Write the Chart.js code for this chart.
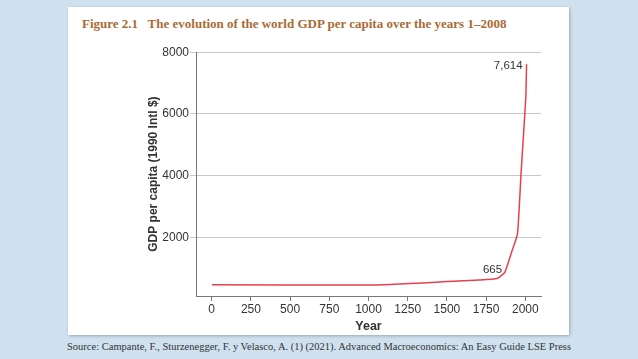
<!DOCTYPE html>
<html>
<head>
<meta charset="utf-8">
<script src="https://cdn.jsdelivr.net/npm/chart.js@4.4.1/dist/chart.umd.min.js"></script>
<style>
  html, body { margin: 0; padding: 0; }
  body { width: 638px; height: 359px; background: #cfe1ef; position: relative; overflow: hidden; }
  .card { position: absolute; left: 68px; top: 7px; width: 501px; height: 328px; background: #fff; box-shadow: 1px 1px 3px rgba(0,0,0,0.25); }
  .title { position: absolute; left: 14px; top: 9px; font: bold 13px "Liberation Serif", serif; color: #a96b35; white-space: pre; }
  .plot { position: absolute; left: 72px; top: 37px; width: 410px; height: 290px; }
  .source { position: absolute; left: 0; width: 638px; top: 341px; text-align: center; font: 10.5px "Liberation Serif", serif; color: #333; white-space: nowrap; }
</style>
</head>
<body>
<div class="card">
  <div class="title">Figure 2.1   The evolution of the world GDP per capita over the years 1–2008</div>
  <div class="plot"><canvas id="gdpChart"></canvas></div>
</div>
<div class="source">Source: Campante, F., Sturzenegger, F. y Velasco, A. (1) (2021). Advanced Macroeconomics: An Easy Guide LSE Press</div>
<script>
const years = [1, 1000, 1500, 1600, 1700, 1820, 1870, 1913, 1950, 1973, 2003, 2008];
const gdpPerCapita = [467, 453, 566, 596, 615, 665, 873, 1526, 2113, 4091, 6516, 7614];
const xTicks = [0, 250, 500, 750, 1000, 1250, 1500, 1750, 2000];
const yTicks = [2000, 4000, 6000, 8000];
// which points get a number written next to them
const labelled = { 1820: '665', 2008: '7,614' };

const pointLabels = {
    id: 'pointLabels',
    afterDatasetsDraw(chart) {
        const ctx = chart.ctx;
        const meta = chart.getDatasetMeta(0);
        ctx.save();
        ctx.font = '11.5px "Liberation Sans", Arial, sans-serif';
        ctx.fillStyle = '#333';
        ctx.textAlign = 'right';
        ctx.textBaseline = 'bottom';
        meta.data.forEach((pt, i) => {
            const txt = labelled[years[i]];
            if (!txt) return;
            if (years[i] === 2008) ctx.fillText(txt, pt.x - 4, pt.y + 7);
            else ctx.fillText(txt, pt.x + 5, pt.y - 3);
        });
        ctx.restore();
    }
};

const tickFont = { family: '"Liberation Sans", Arial, sans-serif', size: 12 };

new Chart(document.getElementById('gdpChart').getContext('2d'), {
    type: 'line',
    data: {
        datasets: [{
            data: years.map((y, i) => ({ x: y, y: gdpPerCapita[i] })),
            borderColor: '#e5404e',
            borderWidth: 1.5,
            pointRadius: 0,
            tension: 0.15,
            fill: false
        }]
    },
    options: {
        responsive: true,
        maintainAspectRatio: false,
        animation: false,
        layout: { padding: { top: 8, right: 9, left: 6, bottom: 0 } },
        plugins: { legend: { display: false }, tooltip: { enabled: false } },
        scales: {
            x: {
                type: 'linear',
                min: -100,
                max: 2100,
                afterBuildTicks: s => { s.ticks = xTicks.map(v => ({ value: v })); },
                afterFit: s => { s.height = 38; },
                grid: { drawOnChartArea: false, tickLength: 5, color: '#777' },
                border: { color: '#777', width: 1 },
                ticks: { color: '#333', font: tickFont, padding: 1, maxRotation: 0, callback: v => String(v) },
                title: { display: true, text: 'Year', color: '#333', font: { family: '"Liberation Sans", Arial, sans-serif', size: 12.5, weight: 'bold' }, padding: 0 }
            },
            y: {
                min: 100,
                max: 8000,
                afterBuildTicks: s => { s.ticks = yTicks.map(v => ({ value: v })); },
                afterFit: s => { s.width = 50; },
                grid: { color: '#c8c8c8', tickLength: 6 },
                border: { color: '#777', width: 1 },
                ticks: { color: '#333', font: tickFont, padding: 1, callback: v => String(v) },
                title: { display: true, text: 'GDP per capita (1990 Intl $)', color: '#333', font: { family: '"Liberation Sans", Arial, sans-serif', size: 12, weight: 'bold' }, padding: 0 }
            }
        }
    },
    plugins: [pointLabels]
});
</script>
</body>
</html>
